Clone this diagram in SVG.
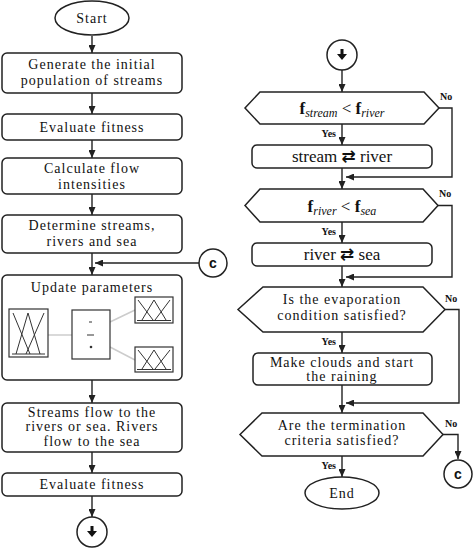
<svg xmlns="http://www.w3.org/2000/svg" width="474" height="548" viewBox="0 0 474 548">
<style>
.box{fill:#fff;stroke:#222;stroke-width:1.5}
.t{font-family:"Liberation Serif","Times New Roman",serif;font-size:14px;letter-spacing:1px;text-anchor:middle;fill:#111}
.m{font-family:"Liberation Serif","Times New Roman",serif;font-size:17px;text-anchor:middle;fill:#111}
.sub{font-style:italic;font-size:12px}
.lbl{font-family:"Liberation Serif","Times New Roman",serif;font-size:10px;font-weight:bold;fill:#111}
.c{fill:none;stroke:#222;stroke-width:1.4}
.mf{fill:none;stroke:#333;stroke-width:1}
.g{stroke:#ccc;stroke-width:1.5;fill:none}
</style>
<defs>
<marker id="ah" markerUnits="userSpaceOnUse" markerWidth="8" markerHeight="7" refX="8" refY="3.5" orient="auto">
<path d="M0,0 L8,3.5 L0,7 z" fill="#222"/>
</marker>
</defs>

<g id="connectors">
<path class="c" d="M92,36 V53" marker-end="url(#ah)"/>
<path class="c" d="M92,93 V114" marker-end="url(#ah)"/>
<path class="c" d="M92,140 V158" marker-end="url(#ah)"/>
<path class="c" d="M92,194 V215" marker-end="url(#ah)"/>
<path class="c" d="M92,253 V275" marker-end="url(#ah)"/>
<path class="c" d="M199,263 H95" marker-end="url(#ah)"/>
<path class="c" d="M92,380 V403" marker-end="url(#ah)"/>
<path class="c" d="M92,452 V473" marker-end="url(#ah)"/>
<path class="c" d="M92,496 V517" marker-end="url(#ah)"/>
<path class="c" d="M342,70 V92" marker-end="url(#ah)"/>
<path class="c" d="M342,124 V145" marker-end="url(#ah)"/>
<path class="c" d="M439,108 H452 V177 H346" marker-end="url(#ah)"/>
<path class="c" d="M342,168 V189" marker-end="url(#ah)"/>
<path class="c" d="M342,222 V243" marker-end="url(#ah)"/>
<path class="c" d="M438,205.5 H452 V277 H346" marker-end="url(#ah)"/>
<path class="c" d="M342,266 V287" marker-end="url(#ah)"/>
<path class="c" d="M342,332 V353" marker-end="url(#ah)"/>
<path class="c" d="M445,309.5 H459 V403 H346" marker-end="url(#ah)"/>
<path class="c" d="M342,385 V413" marker-end="url(#ah)"/>
<path class="c" d="M342,456 V477" marker-end="url(#ah)"/>
<path class="c" d="M443,434.5 H458 V459" marker-end="url(#ah)"/>
<text class="lbl" x="440" y="100">No</text>
<text class="lbl" x="336" y="137" text-anchor="end">Yes</text>
<text class="lbl" x="439" y="197">No</text>
<text class="lbl" x="336" y="235" text-anchor="end">Yes</text>
<text class="lbl" x="445" y="302">No</text>
<text class="lbl" x="336" y="345" text-anchor="end">Yes</text>
<text class="lbl" x="445" y="427">No</text>
<text class="lbl" x="336" y="469" text-anchor="end">Yes</text>
</g>

<g id="start">
<ellipse class="box" cx="92" cy="18" rx="37" ry="17"/>
<text class="t" x="92" y="23">Start</text>
</g>
<g id="generate">
<rect class="box" x="2" y="53" width="180" height="40" rx="5"/>
<text class="t" x="92" y="69">Generate the initial</text>
<text class="t" x="92" y="84.5">population of streams</text>
</g>
<g id="evaluate1">
<rect class="box" x="2" y="114" width="180" height="26" rx="5"/>
<text class="t" x="92" y="132">Evaluate fitness</text>
</g>
<g id="calculate">
<rect class="box" x="2" y="158" width="180" height="36" rx="5"/>
<text class="t" x="92" y="173">Calculate flow</text>
<text class="t" x="92" y="188.5">intensities</text>
</g>
<g id="determine">
<rect class="box" x="2" y="215" width="180" height="38" rx="5"/>
<text class="t" x="92" y="230">Determine streams,</text>
<text class="t" x="92" y="245.5">rivers and sea</text>
</g>
<g id="update">
<rect class="box" x="2" y="275" width="180" height="105" rx="5"/>
<text class="t" x="92" y="292">Update parameters</text>
<line class="g" x1="48" y1="335" x2="72" y2="335"/>
<line class="g" x1="110" y1="322" x2="135" y2="310"/>
<line class="g" x1="110" y1="347" x2="135" y2="360"/>
<rect x="9" y="309" width="39" height="48" fill="#fff" stroke="#333" stroke-width="1.2"/>
<path class="mf" d="M13,313 L30,354 M28,313 L16,354 M28,313 L40,354 M44,313 L26,354 M12,354 H45"/>
<rect x="72" y="310" width="38" height="49" fill="#fff" stroke="#333" stroke-width="1.2"/>
<path d="M89,322 H92 M87,335 H94" stroke="#333" stroke-width="1.2"/>
<circle cx="91" cy="347" r="1.3" fill="#333"/>
<rect x="135" y="297" width="38" height="26" fill="#fff" stroke="#333" stroke-width="1.2"/>
<path class="mf" d="M138,300 L153,320 M154,300 L142,320 M154,300 L166,320 M170,300 L155,320 M137,320.5 H171"/>
<rect x="135" y="347" width="38" height="25" fill="#fff" stroke="#333" stroke-width="1.2"/>
<path class="mf" d="M138,350 L153,369 M154,350 L142,369 M154,350 L166,369 M170,350 L155,369 M137,369.5 H171"/>
</g>
<g id="flow">
<rect class="box" x="2" y="403" width="180" height="49" rx="5"/>
<text class="t" x="92" y="416.5">Streams flow to the</text>
<text class="t" x="92" y="431">rivers or sea. Rivers</text>
<text class="t" x="92" y="445.5">flow to the sea</text>
</g>
<g id="evaluate2">
<rect class="box" x="2" y="473" width="180" height="23" rx="5"/>
<text class="t" x="92" y="489">Evaluate fitness</text>
</g>
<g id="conn-out">
<circle class="box" cx="92" cy="532" r="15"/>
<path d="M90.5,526 H93.5 V531 H97 L92,537 L87,531 H90.5 z" fill="#111"/>
</g>
<g id="conn-c-left">
<circle class="box" cx="213" cy="263" r="14"/>
<text x="213" y="268" text-anchor="middle" font-family="Liberation Sans, Arial, sans-serif" font-weight="bold" font-size="14" fill="#111">c</text>
</g>

<g id="conn-in">
<circle class="box" cx="342" cy="55" r="15"/>
<path d="M340.5,49 H343.5 V54 H347 L342,60 L337,54 H340.5 z" fill="#111"/>
</g>
<g id="dec1">
<path class="box" d="M245,108 L260,92 H424 L439,108 L424,124 H260 z"/>
<text class="m" x="342" y="114"><tspan font-weight="bold">f</tspan><tspan class="sub" dy="3">stream</tspan><tspan dy="-3"> &lt; </tspan><tspan font-weight="bold">f</tspan><tspan class="sub" dy="3">river</tspan></text>
</g>
<g id="swap1">
<rect class="box" x="252" y="145" width="180" height="23" rx="5"/>
<text class="m" x="342" y="162">stream <tspan font-family="DejaVu Sans, sans-serif" font-weight="bold">⇄</tspan> river</text>
</g>
<g id="dec2">
<path class="box" d="M245,205.5 L260,189 H423 L438,205.5 L423,222 H260 z"/>
<text class="m" x="342" y="212"><tspan font-weight="bold">f</tspan><tspan class="sub" dy="3">river</tspan><tspan dy="-3"> &lt; </tspan><tspan font-weight="bold">f</tspan><tspan class="sub" dy="3">sea</tspan></text>
</g>
<g id="swap2">
<rect class="box" x="252" y="243" width="180" height="23" rx="5"/>
<text class="m" x="342" y="260">river <tspan font-family="DejaVu Sans, sans-serif" font-weight="bold">⇄</tspan> sea</text>
</g>
<g id="dec3">
<path class="box" d="M238,309.5 L263,287 H423 L445,309.5 L423,332 H263 z"/>
<text class="t" x="342" y="304">Is the evaporation</text>
<text class="t" x="342" y="319.5">condition satisfied?</text>
</g>
<g id="clouds">
<rect class="box" x="253" y="353" width="179" height="32" rx="5"/>
<text class="t" x="342" y="366.5">Make clouds and start</text>
<text class="t" x="342" y="381">the raining</text>
</g>
<g id="dec4">
<path class="box" d="M240,434.5 L262,413 H423 L443,434.5 L423,456 H262 z"/>
<text class="t" x="342" y="429.5">Are the termination</text>
<text class="t" x="342" y="445">criteria satisfied?</text>
</g>
<g id="end">
<ellipse class="box" cx="342" cy="493" rx="37" ry="16"/>
<text class="t" x="342" y="498">End</text>
</g>
<g id="conn-c-right">
<circle class="box" cx="458" cy="474" r="14"/>
<text x="458" y="479" text-anchor="middle" font-family="Liberation Sans, Arial, sans-serif" font-weight="bold" font-size="14" fill="#111">c</text>
</g>
</svg>
